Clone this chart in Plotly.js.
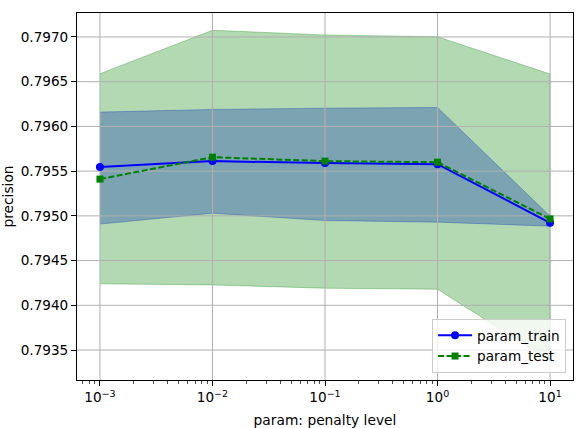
<!DOCTYPE html>
<html>
<head>
<meta charset="utf-8">
<script src="https://cdn.plot.ly/plotly-3.0.1.min.js"></script>
<style>
  html, body { margin: 0; padding: 0; background: #fff; }
  #chart { width: 582px; height: 428px; }
</style>
</head>
<body>
<div id="chart"></div>
<script>
// penalty levels on the x axis
const paramValues = [0.001, 0.01, 0.1, 1, 10];
const tickLabels = ['10<sup>−3</sup>', '10<sup>−2</sup>', '10<sup>−1</sup>', '10<sup>0</sup>', '10<sup>1</sup>'];

// train curve and its band
const trainMean  = [0.795545, 0.795612, 0.795590, 0.795578, 0.794922];
const trainUpper = [0.796160, 0.796190, 0.796204, 0.796212, 0.794996];
const trainLower = [0.794908, 0.795030, 0.794948, 0.794930, 0.794885];

// test curve and its band
const testMean  = [0.795411, 0.795656, 0.795612, 0.795600, 0.794966];
const testUpper = [0.796589, 0.797075, 0.797022, 0.797003, 0.796586];
const testLower = [0.794240, 0.794228, 0.794191, 0.794180, 0.793380];

const yTicks = [0.7935, 0.7940, 0.7945, 0.7950, 0.7955, 0.7960, 0.7965, 0.7970];

const xRange = [-3.204, 1.204];
const yRange = [0.793165, 0.797268];

// minor log ticks 2..9 per decade
let minorTicks = [];
for (let e = -4; e <= 1; e++) {
    for (let m = 2; m <= 9; m++) {
        minorTicks.push(m * Math.pow(10, e));
    }
}

function band(upper, lower, fillColor, lineColor) {
    return {
        x: paramValues.concat(paramValues.slice().reverse()),
        y: upper.concat(lower.slice().reverse()),
        type: 'scatter',
        mode: 'lines',
        fill: 'toself',
        fillcolor: fillColor,
        line: { color: lineColor, width: 1 },
        hoverinfo: 'skip',
        showlegend: false
    };
}

let trainBand = band(trainUpper, trainLower, 'rgba(0,0,255,0.3)', 'rgba(0,0,255,0.3)');
let testBand = band(testUpper, testLower, 'rgba(0,128,0,0.3)', 'rgba(0,128,0,0.3)');

// grid drawn above the bands but below the curves (like matplotlib)
let gx = [], gy = [];
const xLo = Math.pow(10, xRange[0]), xHi = Math.pow(10, xRange[1]);
yTicks.forEach(v => { gx.push(xLo, xHi, null); gy.push(v, v, null); });
paramValues.forEach(v => { gx.push(v, v, null); gy.push(yRange[0], yRange[1], null); });
let grid = {
    x: gx, y: gy,
    type: 'scatter',
    mode: 'lines',
    line: { color: '#b0b0b0', width: 1 },
    hoverinfo: 'skip',
    showlegend: false,
    connectgaps: false
};

let trainLine = {
    x: paramValues, y: trainMean,
    name: 'param_train',
    type: 'scatter',
    mode: 'lines+markers',
    line: { color: 'blue', width: 2 },
    marker: { color: 'blue', size: 8, symbol: 'circle' }
};

let testLine = {
    x: paramValues, y: testMean,
    name: 'param_test',
    type: 'scatter',
    mode: 'lines+markers',
    line: { color: 'green', width: 2, dash: '6px,2.5px' },
    marker: { color: 'green', size: 7, symbol: 'square' }
};

let layout = {
    width: 582,
    height: 428,
    margin: { l: 77, r: 9, t: 13, b: 48 },
    paper_bgcolor: 'white',
    plot_bgcolor: 'white',
    font: { family: 'DejaVu Sans, sans-serif', size: 13.6, color: 'black' },
    showlegend: true,
    legend: {
        x: 0.986, y: 0.019,
        xanchor: 'right', yanchor: 'bottom',
        bgcolor: 'rgba(255,255,255,0.8)',
        bordercolor: '#cccccc',
        borderwidth: 1,
        font: { size: 13.6 },
        itemwidth: 34,
        tracegroupgap: 0
    },
    xaxis: {
        type: 'log',
        range: xRange,
        tickmode: 'array',
        tickvals: paramValues,
        ticktext: tickLabels,
        ticks: 'outside',
        ticklen: 5,
        tickwidth: 1,
        tickcolor: 'black',
        showgrid: false,
        zeroline: false,
        showline: true,
        linecolor: 'black',
        linewidth: 1,
        mirror: true,
        minor: {
            tickmode: 'array',
            tickvals: minorTicks,
            ticks: 'outside',
            ticklen: 3,
            tickwidth: 0.7,
            tickcolor: 'black',
            showgrid: false
        },
        title: { text: 'param: penalty level', font: { size: 13.8 }, standoff: 11 }
    },
    yaxis: {
        range: yRange,
        tickmode: 'array',
        tickvals: yTicks,
        ticktext: yTicks.map(v => v.toFixed(4)),
        ticks: 'outside',
        ticklen: 5,
        tickwidth: 1,
        tickcolor: 'black',
        showgrid: false,
        zeroline: false,
        showline: true,
        linecolor: 'black',
        linewidth: 1,
        mirror: true,
        title: { text: 'precision', font: { size: 13.8 }, standoff: 4 }
    }
};

Plotly.newPlot('chart', [trainBand, testBand, grid, trainLine, testLine], layout, { displayModeBar: false, staticPlot: true });
</script>
</body>
</html>
